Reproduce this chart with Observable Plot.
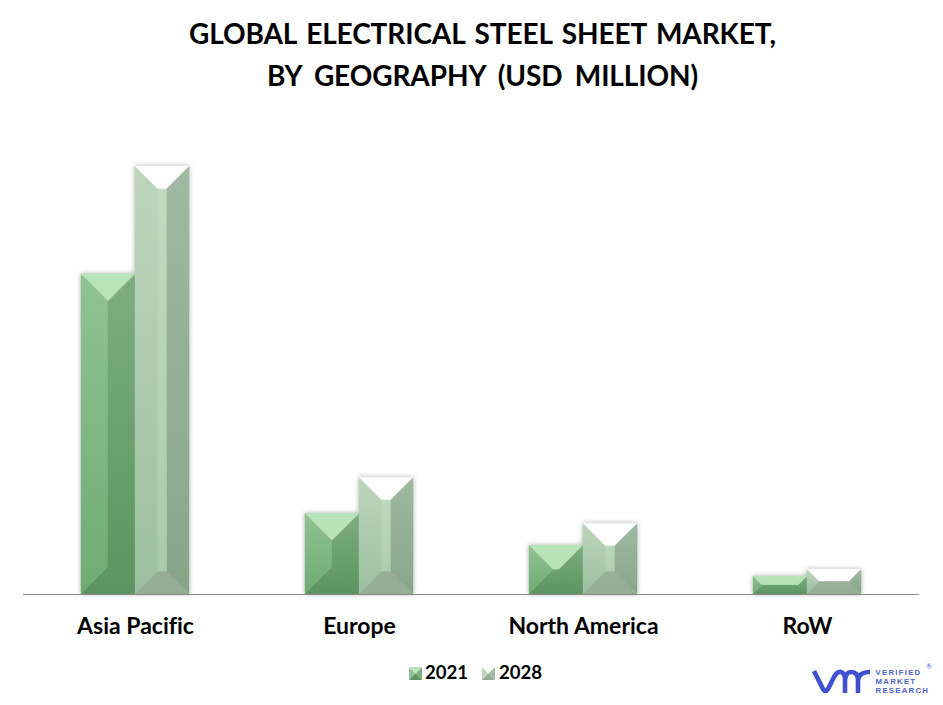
<!DOCTYPE html>
<html>
<head>
<meta charset="utf-8">
<script src="https://cdn.jsdelivr.net/npm/d3@7"></script>
<script src="https://cdn.jsdelivr.net/npm/@observablehq/plot@0.6"></script>
<style>
  html, body { margin: 0; padding: 0; background: #fff; }
  body { width: 943px; height: 705px; position: relative; overflow: hidden; font-family: Lato, sans-serif; color: #000; font-variant-ligatures: none; }
  h1 { margin: 0; position: absolute; left: 0; top: 12px; width: 965px; text-align: center; font-size: 28px; line-height: 42px; font-weight: 700; word-spacing: 3px; letter-spacing: -0.1px; }
  h1 span { word-spacing: 5.7px; }
  #chart { position: absolute; left: 0; top: 120px; }
  #chart text { font-variant-ligatures: none; }
  #legend { position: absolute; top: 659px; left: 0; width: 943px; height: 26px; font-size: 18.6px; font-weight: 700; }
  #legend span { position: absolute; top: 0; line-height: 26px; }
  #legend svg { position: absolute; top: 8px; }
  #logo { position: absolute; left: 0; top: 0; }
  #logoText { position: absolute; left: 875.5px; top: 668.2px; font-size: 7.8px; line-height: 9px; font-weight: 700; letter-spacing: 1.25px; color: #4f63cf; font-family: "Liberation Sans", sans-serif; }
  #reg { position: absolute; left: 926px; top: 662px; font-size: 7px; color: #5a6bd0; }
</style>
</head>
<body>
<h1>GLOBAL ELECTRICAL STEEL SHEET MARKET,<br><span>BY GEOGRAPHY (USD MILLION)</span></h1>
<div id="chart"></div>
<div id="legend"></div>
<svg id="logo" width="943" height="705" viewBox="0 0 943 705" style="pointer-events:none">
  <path d="M814 671 L823 689 Q825.5 693 828 689 L834 677 Q837.5 671 841 672 Q845 673 845 680 L845 693 M845 680 Q846 672 851 672 Q858 672 858 680 L858 693 M858 680 Q859 672 870 672" fill="none" stroke="#3f51d0" stroke-width="4.6"/>
</svg>
<div id="logoText">VERIFIED<br>MARKET<br>RESEARCH</div>
<div id="reg">®</div>
<script>
const regions = ["Asia Pacific", "Europe", "North America", "RoW"];
const years = ["2021", "2028"];
const values2021 = [321, 81, 49, 18];
const values2028 = [429, 117, 71, 25];
const bevelDepth = { "2021": 27, "2028": 22.5 };

// [colour at the bar's top, colour at the bar's foot] of each face
const faceColors = {
  "2021": {
    top: ["#b7e4b8", "#b4e2b5"],
    left: ["#90c293", "#6fac72"],
    center: ["#85b688", "#669c69"],
    right: ["#7dae80", "#5c9360"],
    bottom: ["#7dae80", "#5c9360"]
  },
  "2028": {
    top: ["#ffffff", "#ffffff"],
    left: ["#bdd6bd", "#9dbf9f"],
    center: ["#c2dcc1", "#a8cba9"],
    right: ["#a0b9a2", "#88a58a"],
    bottom: ["#9db69d", "#96ad95"]
  }
};

const rows = [
  ...regions.map((region, i) => ({ region, year: "2021", value: values2021[i] })),
  ...regions.map((region, i) => ({ region, year: "2028", value: values2028[i] }))
];

// Bevelled bar: takes the library's scaled positions and draws faces inside them
function bevelBar(index, scales, values) {
  const g = d3.create("svg:g").style("filter", "drop-shadow(0 0 2.5px rgba(0,0,0,0.32))");
  const bw = scales.x.bandwidth;
  const w = typeof bw === "function" ? bw() : bw;
  for (const i of index) {
    const y = rows[i].year;
    const x0 = values.x[i], x1 = x0 + w;
    const yT = values.y2[i], yB = values.y1[i];
    const top = Math.min(yT, yB), bot = Math.max(yT, yB);
    const d = Math.min(bevelDepth[y], w / 2, (bot - top) / 2);
    const b = g.append("g");
    const defs = b.append("defs");
    const poly = (face, pts) => {
      const id = `bar${i}${face}`;
      const lg = defs.append("linearGradient").attr("id", id).attr("gradientUnits", "userSpaceOnUse")
        .attr("x1", 0).attr("x2", 0).attr("y1", top).attr("y2", bot);
      lg.append("stop").attr("offset", "0%").attr("stop-color", faceColors[y][face][0]);
      lg.append("stop").attr("offset", "100%").attr("stop-color", faceColors[y][face][1]);
      b.append("polygon")
        .attr("points", pts.map(p => p.join(",")).join(" "))
        .attr("fill", `url(#${id})`)
        .attr("stroke", `url(#${id})`).attr("stroke-width", 0.3);
    };
    const lx = x0 + d, rx = x1 - d, ty = top + d, by = bot - d;
    poly("left", [[x0, top], [lx, ty], [lx, by], [x0, bot]]);
    poly("right", [[x1, top], [rx, ty], [rx, by], [x1, bot]]);
    if (rx - lx > 0.5 && by - ty > 0.5) poly("center", [[lx, ty], [rx, ty], [rx, by], [lx, by]]);
    poly("top", [[x0, top], [x1, top], [rx, ty], [lx, ty]]);
    poly("bottom", [[x0, bot], [x1, bot], [rx, by], [lx, by]]);
  }
  return g.node();
}

const plot = Plot.plot({
  width: 943,
  height: 530,
  marginLeft: 23,
  marginRight: 24,
  marginTop: 46,
  marginBottom: 56,
  style: { fontFamily: "Lato, sans-serif", background: "transparent", overflow: "visible" },
  fx: { domain: regions, axis: null, padding: 0, label: null },
  x: { domain: years, axis: null, paddingInner: 0, paddingOuter: 1.055 },
  y: { domain: [0, 429], axis: null },
  marks: [
    Plot.barY(rows, { fx: "region", x: "year", y: "value", render: bevelBar }),
    Plot.ruleY([0], { stroke: "#8a8a8a", strokeWidth: 1.2 }),
    Plot.axisFx({
      anchor: "bottom", label: null, tickSize: 0, tickPadding: 32,
      fontSize: 23, fontWeight: 700, fill: "#000", lineAnchor: "middle"
    })
  ]
});
document.getElementById("chart").appendChild(plot);

// legend
const legend = document.getElementById("legend");
const legendX = { "2021": 409, "2028": 482 };
const legendTextX = { "2021": 425, "2028": 499 };
for (const y of years) {
  const c = faceColors[y];
  const s = d3.create("svg").attr("width", 13).attr("height", 13).style("left", legendX[y] + "px");
  s.append("polygon").attr("points", "0,0 6.5,6.5 0,13").attr("fill", c.left[0]);
  s.append("polygon").attr("points", "13,0 6.5,6.5 13,13").attr("fill", c.right[0]);
  s.append("polygon").attr("points", "0,13 6.5,6.5 13,13").attr("fill", c.bottom[1]);
  s.append("polygon").attr("points", "0,0 13,0 6.5,6.5").attr("fill", c.top[0]);
  legend.appendChild(s.node());
  const t = document.createElement("span");
  t.textContent = y;
  t.style.left = legendTextX[y] + "px";
  legend.appendChild(t);
}
</script>
</body>
</html>
